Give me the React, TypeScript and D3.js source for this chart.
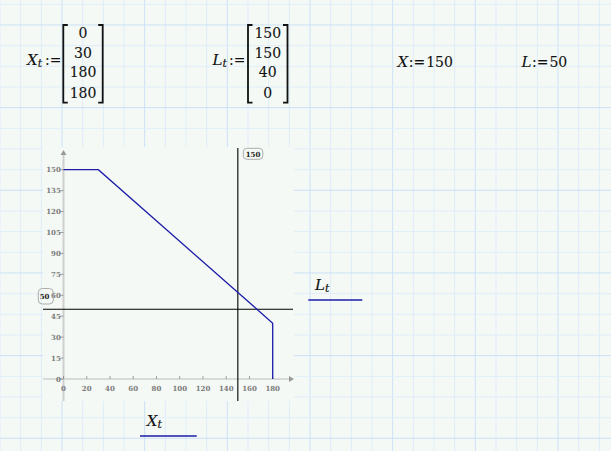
import React from "react";
import * as d3 from "d3";

const Xt = [0, 30, 180, 180];
const Lt = [150, 150, 40, 0];
const Xmark = 150;
const Lmark = 50;
const xTicks = [0, 20, 40, 60, 80, 100, 120, 140, 160, 180];
const yTicks = [0, 15, 30, 45, 60, 75, 90, 105, 120, 135, 150];
const XtLabel = "X";
const LtLabel = "L";

const W = 611;
const H = 451;
const BG = "#f4f9f5";
const SERIF = "'DejaVu Serif', serif";

function Matrix({ x0, x1, values }: { x0: number; x1: number; values: number[] }) {
  const top = 25;
  const bot = 102.7;
  const rowBase = [38.3, 57.7, 77.3, 98.3];
  const cx = (x0 + x1) / 2;
  return (
    <g>
      <path
        d={`M${x0 + 4.5},${top} H${x0} V${bot} H${x0 + 4.5}`}
        fill="none"
        stroke="#111"
        strokeWidth={1.8}
      />
      <path
        d={`M${x1 - 4.5},${top} H${x1} V${bot} H${x1 - 4.5}`}
        fill="none"
        stroke="#111"
        strokeWidth={1.8}
      />
      {values.map((v, i) => (
        <text
          key={i}
          x={cx}
          y={rowBase[i]}
          textAnchor="middle"
          fontFamily={SERIF}
          fontSize={14}
          fill="#111"
          stroke="#111"
          strokeWidth={0.12}
        >
          {v}
        </text>
      ))}
    </g>
  );
}

function MathLabel({ x, y, name, sub }: { x: number; y: number; name: string; sub?: string }) {
  return (
    <text x={x} y={y} fontFamily={SERIF} fontSize={15} fill="#111" stroke="#111" strokeWidth={0.15}>
      <tspan fontStyle="italic">{name}</tspan>
      {sub ? (
        <tspan fontStyle="italic" fontSize={11} dy={2}>
          {sub}
        </tspan>
      ) : null}
    </text>
  );
}

export default function App() {
  const x = d3.scaleLinear().domain([0, 180]).range([63.5, 272.7]);
  const y = d3.scaleLinear().domain([0, 150]).range([379, 169.7]);
  const line = d3
    .line<number>()
    .x((_, i) => x(Xt[i]))
    .y((d) => y(d));

  // page grid
  const step = 20.667;
  const vLines: number[] = [];
  for (let k = 0; k * step < W + 1; k++) vLines.push(k);
  const hLines: number[] = [];
  for (let k = 0; 4.3 + k * step < H + 1; k++) hLines.push(k);

  const plot = { x0: 43, y0: 147, x1: 294, y1: 401 };
  const axisColor = "#cfcfcf";
  const tickColor = "#8a8a8a";

  return (
    <svg
      width={W}
      height={H}
      style={{ position: "absolute", left: 0, top: 0, display: "block" }}
    >
      <rect x={0} y={0} width={W} height={H} fill={BG} />
      {vLines.map((k) => (
        <line
          key={"v" + k}
          x1={k * step}
          x2={k * step}
          y1={0}
          y2={H}
          stroke={k % 4 === 3 ? "#cae1f6" : "#dfedfa"}
          strokeWidth={1}
        />
      ))}
      {hLines.map((k) => (
        <line
          key={"h" + k}
          x1={0}
          x2={W}
          y1={4.3 + k * step}
          y2={4.3 + k * step}
          stroke={k % 4 === 1 ? "#cae1f6" : "#dfedfa"}
          strokeWidth={1}
        />
      ))}

      {/* top definitions */}
      <MathLabel x={27} y={64.5} name="X" sub="t" />
      <text x={45} y={64.5} fontFamily={SERIF} fontSize={14} fill="#111">:=</text>
      <Matrix x0={63.3} x1={102.7} values={Xt} />

      <MathLabel x={212.5} y={64.5} name="L" sub="t" />
      <text x={229} y={64.5} fontFamily={SERIF} fontSize={14} fill="#111">:=</text>
      <Matrix x0={248} x1={287.5} values={Lt} />

      <text x={397.5} y={67} fontFamily={SERIF} fontSize={14} fill="#111" stroke="#111" strokeWidth={0.12}>
        <tspan fontStyle="italic" fontSize={15}>X</tspan>
        <tspan dx={0.5}>:=</tspan>
        <tspan dx={1}>{Xmark}</tspan>
      </text>
      <text x={521.5} y={67} fontFamily={SERIF} fontSize={14} fill="#111" stroke="#111" strokeWidth={0.12}>
        <tspan fontStyle="italic" fontSize={15}>L</tspan>
        <tspan dx={0.5}>:=</tspan>
        <tspan dx={1}>{Lmark}</tspan>
      </text>

      {/* plot area */}
      <rect
        x={plot.x0}
        y={plot.y0}
        width={plot.x1 - plot.x0}
        height={plot.y1 - plot.y0}
        fill={BG}
      />

      {/* axes */}
      <line x1={plot.x0} x2={289} y1={y(0)} y2={y(0)} stroke={axisColor} strokeWidth={1.6} />
      <path d={`M289,${y(0) - 3} L294,${y(0)} L289,${y(0) + 3} Z`} fill="#999" />
      <line x1={x(0)} x2={x(0)} y1={plot.y1} y2={155} stroke={axisColor} strokeWidth={2} />
      <path d={`M${x(0) - 3},155 L${x(0)},150 L${x(0) + 3},155 Z`} fill="#999" />

      {xTicks.map((t) => (
        <g key={"xt" + t}>
          <line x1={x(t)} x2={x(t)} y1={y(0) - 3} y2={y(0)} stroke={tickColor} strokeWidth={0.8} />
          <text
            x={x(t)}
            y={390.8}
            textAnchor="middle"
            fontFamily={SERIF}
            fontSize={7}
            fontWeight="bold"
            fill="#7c7c7c"
          >
            {t}
          </text>
        </g>
      ))}
      {yTicks.map((t) => (
        <g key={"yt" + t}>
          <line x1={x(0) - 3.5} x2={x(0)} y1={y(t)} y2={y(t)} stroke={tickColor} strokeWidth={0.8} />
          <text
            x={60.8}
            y={y(t) + 2.6}
            textAnchor="end"
            fontFamily={SERIF}
            fontSize={7}
            fontWeight="bold"
            fill="#7c7c7c"
          >
            {t}
          </text>
        </g>
      ))}

      {/* marker lines */}
      <line x1={x(Xmark)} x2={x(Xmark)} y1={148} y2={plot.y1} stroke="#000" strokeWidth={1.1} />
      <line x1={plot.x0} x2={293} y1={y(Lmark)} y2={y(Lmark)} stroke="#000" strokeWidth={1.1} />

      {/* data */}
      <path d={line(Lt) || ""} fill="none" stroke="#1c1ca8" strokeWidth={1.3} />

      {/* marker value boxes */}
      <rect x={243.3} y={148.3} width={19.5} height={11} rx={3.5} fill="none" stroke="#9a9a9a" strokeWidth={0.8} />
      <text x={253} y={156.6} textAnchor="middle" fontFamily={SERIF} fontSize={7} fontWeight="bold" fill="#222">
        {Xmark}
      </text>
      <rect x={38.3} y={288.5} width={15} height={15.5} rx={4} fill="none" stroke="#9a9a9a" strokeWidth={0.8} />
      <text x={44.5} y={299} textAnchor="middle" fontFamily={SERIF} fontSize={7} fontWeight="bold" fill="#222">
        {Lmark}
      </text>

      {/* trace labels */}
      <MathLabel x={315} y={289.5} name={LtLabel} sub="t" />
      <line x1={308.3} x2={362.3} y1={300} y2={300} stroke="#1c1ca8" strokeWidth={1.3} />
      <MathLabel x={146.7} y={425.5} name={XtLabel} sub="t" />
      <line x1={140} x2={196.7} y1={436} y2={436} stroke="#1c1ca8" strokeWidth={1.3} />
    </svg>
  );
}
